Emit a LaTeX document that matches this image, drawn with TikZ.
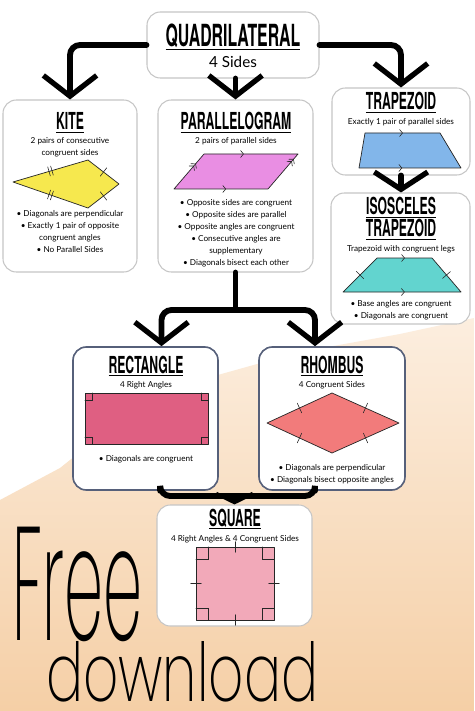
\documentclass[tikz,border=0pt]{standalone}
\usepackage{fontspec}
\setmainfont{Lato}
\newfontfamily\headfont[FakeStretch=0.52]{TeX Gyre Heros}
\newfontfamily\handfont{Poppins ExtraLight}
\usetikzlibrary{arrows.meta,fit,decorations.markings}
\definecolor{kiteyellow}{HTML}{F6E84E}
\definecolor{paraviolet}{HTML}{E98EE3}
\definecolor{trapblue}{HTML}{82B6EA}
\definecolor{isoteal}{HTML}{62D4CF}
\definecolor{rectpink}{HTML}{DF5F82}
\definecolor{rhombred}{HTML}{F27B7B}
\definecolor{squarepink}{HTML}{F2A9B9}
\definecolor{peachlight}{HTML}{FCEEDF}
\definecolor{peachdark}{HTML}{F5CFA6}
\definecolor{slate}{HTML}{56607A}
\newcommand\undl[1]{\sbox0{#1}\rlap{\rule[-2.6pt]{\wd0}{1.1pt}}\usebox0}
\tikzset{
 card/.style={draw=gray!45, line width=0.9pt, fill=white, rounded corners=0.4cm, inner sep=0pt},
 darkcard/.style={card, draw=slate, line width=1.4pt},
 heading/.style={font=\headfont\bfseries\fontsize{20}{20}\selectfont, inner sep=0pt, anchor=base},
 txt/.style={font=\fontsize{7}{10.24}\selectfont, align=center, inner sep=0pt, anchor=north},
 stem/.style={line width=5pt, rounded corners=0.3cm},
 flow/.style={stem, -{Straight Barb[length=#1, width=1.6cm, line width=4.5pt]}},
 flow/.default=0.62cm,
 poly/.style={draw=black!85, line width=0.6pt, line join=round},
 markline/.style={draw=black!85, line width=0.5pt},
 hatch/.style={postaction={decorate, decoration={markings, mark=at position #1 with {\draw[markline] (0,-4.5pt) -- (0,4.5pt);}}}},
 hatch/.default=0.5,
 dhatch/.style={postaction={decorate, decoration={markings, mark=at position #1 with {\draw[markline] (-1.3pt,-4pt) -- (-1.3pt,4pt) (1.3pt,-4pt) -- (1.3pt,4pt);}}}},
 dhatch/.default=0.5,
 parmark/.style={postaction={decorate, decoration={markings, mark=at position #1 with {\draw[markline] (-2.5pt,3pt) -- (0,0) -- (-2.5pt,-3pt);}}}},
 parmark/.default=0.5,
 dparmark/.style={postaction={decorate, decoration={markings, mark=at position #1 with {\draw[markline] (-2.5pt,3pt) -- (0,0) -- (-2.5pt,-3pt) (-5pt,3pt) -- (-2.5pt,0) -- (-5pt,-3pt);}}}},
 dparmark/.default=0.5
}
\begin{document}
\begin{tikzpicture}[x=0.03cm, y=-0.03cm, line cap=round]
 \useasboundingbox (0,0) rectangle (474,711);
 \fill[white] (0,0) rectangle (474,711);
 \shade[top color=peachlight, bottom color=peachdark] (0,711) -- (0,500) -- (60,468) -- (120,420) -- (200,380) -- (300,352) -- (400,334) -- (474,318) -- (474,711) -- cycle;

 \node[inner sep=0pt, anchor=base west, font=\handfont] (free) at (12,640) {\resizebox{3.9cm}{3.4cm}{Free}};
 \node[inner sep=0pt, anchor=base west, font=\handfont] (dl) at (46,701) {\resizebox{8.15cm}{1.8cm}{download}};

 \node[card, fit={(147,12) (319,78)}] (quad) {};
 \node[card, fit={(3,100) (137,272)}] (kite) {};
 \node[card, fit={(158,100) (313,272)}] (para) {};
 \node[card, fit={(332,88) (470,175)}] (trap) {};
 \node[card, fit={(331,193) (470,324)}] (iso) {};
 \node[darkcard, fit={(73,347) (218,490)}] (rect) {};
 \node[darkcard, fit={(259,347) (405,490)}] (rhomb) {};
 \node[card, fit={(157,505) (312,626)}] (square) {};

 \draw[flow] (quad.west) -| (kite.north);
 \draw[flow] (quad.south -| para.north) -- (para.north);
 \draw[flow] (quad.east) -| (trap.north);
 \draw[flow=0.52cm] (trap.south) -- (trap.south |- iso.north);
 \coordinate (split) at (para.south |- 0,310);
 \draw[stem] (para.south) -- (split);
 \draw[flow] (split) -| ([xshift=0.48cm]rect.north);
 \draw[flow] (split) -| ([xshift=-0.51cm]rhomb.north);
 \coordinate (join) at (square.north |- 0,496);
 \draw[stem] ([xshift=0.44cm]rect.south) |- (join) -| ([xshift=-0.51cm]rhomb.south);
 \draw[stem, -{Straight Barb[length=0.27cm, width=1.1cm, line width=3pt]}] (join) -- (square.north);

 \node[heading, font=\headfont\bfseries\fontsize{26}{26}\selectfont] (quadt) at (233,47) {\undl{QUADRILATERAL}};
 \node[inner sep=0pt, anchor=base, font=\fontsize{13}{13}\selectfont] (quads) at (233,68) {4 Sides};

 \node[heading] (kitet) at (70,130) {\undl{KITE}};
 \node[txt] (kites) at (70,137) {2 pairs of consecutive\\congruent sides};
 \draw[poly, fill=kiteyellow] (13,182) -- (88,160) -- (119,184) -- (88,208) -- cycle;
 \path[dhatch] (13,182) -- (88,160);
 \path[dhatch] (13,182) -- (88,208);
 \path[hatch] (88,160) -- (119,184);
 \path[hatch] (119,184) -- (88,208);
 \node[txt] (kiteb) at (70,210) {• Diagonals are perpendicular\\• Exactly 1 pair of opposite\\congruent angles\\• No Parallel Sides};

 \node[heading] (parat) at (236,130) {\undl{PARALLELOGRAM}};
 \node[txt] (paras) at (236,137) {2 pairs of parallel sides};
 \draw[poly, fill=paraviolet] (204,154) -- (298,154) -- (268,189) -- (174,189) -- cycle;
 \path[parmark=0.42] (204,154) -- (298,154);
 \path[parmark=0.55] (174,189) -- (268,189);
 \path[dparmark=0.72] (174,189) -- (204,154);
 \path[dparmark=0.85] (268,189) -- (298,154);
 \node[txt] (parab) at (236,199) {• Opposite sides are congruent\\• Opposite sides are parallel\\• Opposite angles are congruent\\• Consecutive angles are\\supplementary\\• Diagonals bisect each other};

 \node[heading] (trapt) at (401,110) {\undl{TRAPEZOID}};
 \node[txt] (traps) at (401,118) {Exactly 1 pair of parallel sides};
 \draw[poly, fill=trapblue] (365,133) -- (440,133) -- (461,168) -- (359,168) -- cycle;
 \path[parmark=0.5] (365,133) -- (440,133);
 \path[parmark=0.42] (359,168) -- (461,168);

 \node[heading] (isot) at (401,215) {\undl{ISOSCELES}};
 \node[heading] (isot2) at (401,237) {\undl{TRAPEZOID}};
 \node[txt] (isos) at (401,245) {Trapezoid with congruent legs};
 \draw[poly, fill=isoteal] (377,258) -- (432,258) -- (461,292) -- (343,292) -- cycle;
 \path[parmark=0.5] (377,258) -- (432,258);
 \path[parmark=0.52] (343,292) -- (461,292);
 \path[hatch] (343,292) -- (377,258);
 \path[hatch] (432,258) -- (461,292);
 \node[txt] (isob) at (401,300) {• Base angles are congruent\\• Diagonals are congruent};

 \node[heading] (rectt) at (146,373) {\undl{RECTANGLE}};
 \node[txt] (rects) at (146,381) {4 Right Angles};
 \draw[poly, fill=rectpink] (85,393) rectangle (208,444);
 \foreach \cx/\cy/\dx/\dy in {85/393/1/1, 208/393/-1/1, 85/444/1/-1, 208/444/-1/-1}
  \draw[markline] ({\cx+7*\dx},\cy) -- ({\cx+7*\dx},{\cy+7*\dy}) -- (\cx,{\cy+7*\dy});
 \node[txt] (rectb) at (146,455) {• Diagonals are congruent};

 \node[heading] (rhombt) at (332,373) {\undl{RHOMBUS}};
 \node[txt] (rhombs) at (332,381) {4 Congruent Sides};
 \draw[poly, fill=rhombred] (267,423) -- (332,393) -- (399,423) -- (332,453) -- cycle;
 \path[hatch] (267,423) -- (332,393);
 \path[hatch] (332,393) -- (399,423);
 \path[hatch] (399,423) -- (332,453);
 \path[hatch] (332,453) -- (267,423);
 \node[txt] (rhombb) at (332,464) {• Diagonals are perpendicular\\• Diagonals bisect opposite angles};

 \node[heading] (sqt) at (235,526) {\undl{SQUARE}};
 \node[txt] (sqs) at (235,535) {4 Right Angles \& 4 Congruent Sides};
 \draw[poly, fill=squarepink] (196,547) rectangle (274,620);
 \foreach \cx/\cy/\dx/\dy in {196/547/1/1, 274/547/-1/1, 196/620/1/-1, 274/620/-1/-1}
  \draw[markline] ({\cx+12*\dx},\cy) -- ({\cx+12*\dx},{\cy+12*\dy}) -- (\cx,{\cy+12*\dy});
 \path[hatch] (196,547) -- (274,547);
 \path[hatch] (274,547) -- (274,620);
 \path[hatch] (274,620) -- (196,620);
 \path[hatch] (196,620) -- (196,547);
\end{tikzpicture}
\end{document}
